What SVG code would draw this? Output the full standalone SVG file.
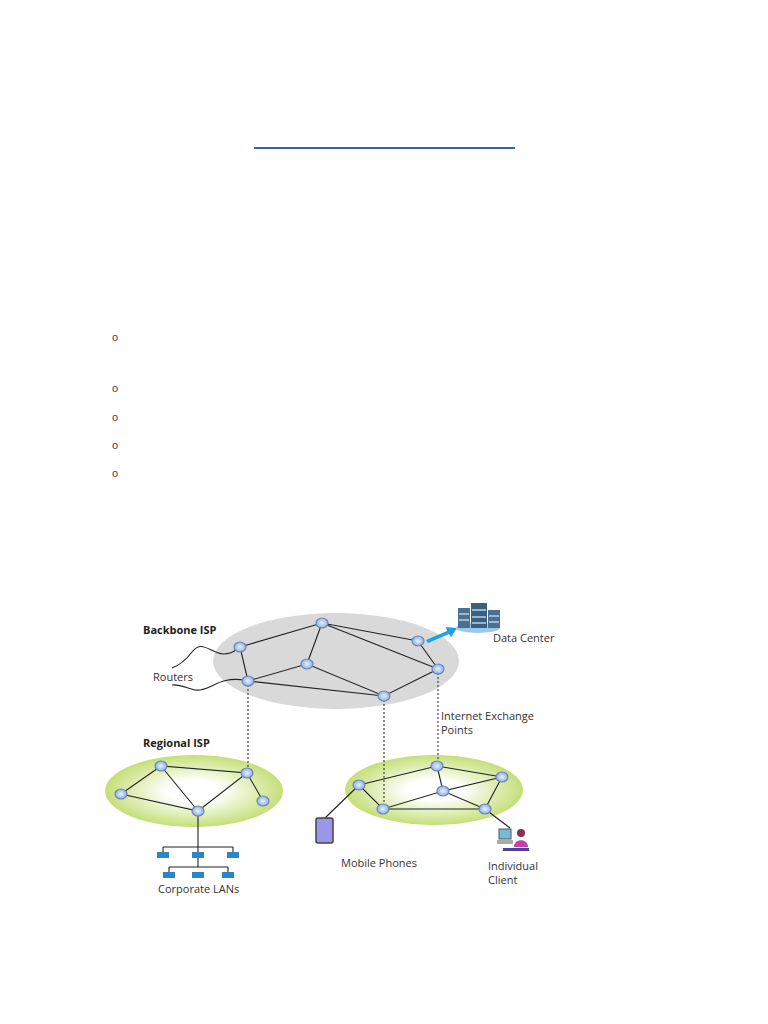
<svg xmlns="http://www.w3.org/2000/svg" width="768" height="1024" viewBox="0 0 768 1024">
<style>
.t{font-family:"Open Sans","Liberation Sans",sans-serif;font-size:11px;fill:#333}
.b{font-weight:bold;fill:#222}
.bul{font-family:"Liberation Sans",sans-serif;font-size:11px;fill:#444}
.e{stroke:#222;stroke-width:1.1;fill:none}
.d{stroke:#333;stroke-width:1.1;stroke-dasharray:2,2;fill:none}
.n{fill:url(#ng);stroke:#6a86b8;stroke-width:1.2}
</style>
<defs>
<radialGradient id="ng"><stop offset="0" stop-color="#e8f0ff"/><stop offset="1" stop-color="#8fb0e0"/></radialGradient>
<radialGradient id="gg"><stop offset="0.3" stop-color="#ffffff"/><stop offset="1" stop-color="#c5df78"/></radialGradient>
</defs>
<rect width="768" height="1024" fill="#fff"/>
<line x1="254" y1="148" x2="515" y2="148" stroke="#3a62a8" stroke-width="2"/>
<g class="bul"><text x="112" y="341">o</text><text x="112" y="392">o</text><text x="112" y="421">o</text><text x="112" y="449">o</text><text x="112" y="477">o</text></g>

<ellipse id="backbone" cx="336" cy="661" rx="123" ry="48" fill="#d9d9d9"/>
<ellipse id="regional-left" cx="194" cy="791" rx="89" ry="36" fill="url(#gg)"/>
<ellipse id="regional-right" cx="434" cy="790" rx="89" ry="35" fill="url(#gg)"/>

<g id="connectors">
<path class="e" d="M240,647L322,623L418,641M322,623L438,669M322,623L307,664M240,647L248,681L307,664L384,696L438,669L418,641M248,681L384,696"/>
<path class="e" d="M161,766L121,794L198,811L161,766L247,773L198,811M247,773L263,801"/>
<path class="e" d="M359,785L437,766L502,777L443,791L437,766M359,785L383,809L443,791L485,809L383,809M485,809L502,777"/>
<path class="d" d="M248,681V773M384,696V809M438,669V766"/>
<path class="e" d="M359,785L325,818M485,809L510,828"/>
<path class="e" d="M198,811V867M163,847H233M163,847V852M198,847V852M233,847V852M169,867H228M169,867V872M228,867V872"/>
<path class="e" stroke-width="0.8" d="M236,650C215,664 205,635 192,652C186,660 180,665 172,668M244,680C218,676 210,692 195,690C186,688 180,684 172,685"/>
<path d="M426,640L447,631L446,627L457,628L451,637L449,634L428,643Z" fill="#1ea0e6"/>
</g>

<g id="nodes">
<ellipse class="n" cx="322" cy="623" rx="6" ry="5"/><ellipse class="n" cx="240" cy="647" rx="6" ry="5"/>
<ellipse class="n" cx="418" cy="641" rx="6" ry="5"/><ellipse class="n" cx="307" cy="664" rx="6" ry="5"/>
<ellipse class="n" cx="438" cy="669" rx="6" ry="5"/><ellipse class="n" cx="248" cy="681" rx="6" ry="5"/>
<ellipse class="n" cx="384" cy="696" rx="6" ry="5"/>
<ellipse class="n" cx="161" cy="766" rx="6" ry="5"/><ellipse class="n" cx="247" cy="773" rx="6" ry="5"/>
<ellipse class="n" cx="121" cy="794" rx="6" ry="5"/><ellipse class="n" cx="263" cy="801" rx="6" ry="5"/>
<ellipse class="n" cx="198" cy="811" rx="6" ry="5"/>
<ellipse class="n" cx="359" cy="785" rx="6" ry="5"/><ellipse class="n" cx="437" cy="766" rx="6" ry="5"/>
<ellipse class="n" cx="502" cy="777" rx="6" ry="5"/><ellipse class="n" cx="443" cy="791" rx="6" ry="5"/>
<ellipse class="n" cx="383" cy="809" rx="6" ry="5"/><ellipse class="n" cx="485" cy="809" rx="6" ry="5"/>
</g>

<g id="datacenter">
<ellipse cx="478" cy="628" rx="22" ry="5" fill="#9cc8ee"/>
<rect x="458" y="608" width="12" height="20" fill="#4a6f8f"/><rect x="488" y="610" width="12" height="18" fill="#4a6f8f"/>
<rect x="471" y="603" width="16" height="25" fill="#3b5f7f"/>
<path d="M459,614H469M459,620H469M472,610H486M472,617H486M472,623H486M489,616H499M489,622H499" stroke="#b5d3ec" stroke-width="1.5"/>
</g>
<g id="phone"><rect x="316" y="818" width="17" height="25" rx="2" fill="#9b97e8" stroke="#444" stroke-width="1.5"/></g>
<g id="client">
<rect x="499" y="829" width="12" height="10" fill="#7ab8d8" stroke="#555"/>
<rect x="497" y="840" width="16" height="4" fill="#aaa"/>
<circle cx="521" cy="833" r="4" fill="#8a3050"/>
<path d="M514,847C514,838 528,838 528,847Z" fill="#c040b0"/>
<rect x="503" y="848" width="26" height="3" fill="#5040a0"/>
</g>
<g id="lan" fill="#2a86c8">
<rect x="157" y="852" width="12" height="6"/><rect x="192" y="852" width="12" height="6"/><rect x="227" y="852" width="12" height="6"/>
<rect x="163" y="872" width="12" height="6"/><rect x="192" y="872" width="12" height="6"/><rect x="222" y="872" width="12" height="6"/>
</g>

<g id="labels">
<text class="t b" x="143" y="634">Backbone ISP</text>
<text class="t" x="153" y="681">Routers</text>
<text class="t" x="493" y="642">Data Center</text>
<text class="t" x="441" y="720">Internet Exchange</text>
<text class="t" x="441" y="734">Points</text>
<text class="t b" x="143" y="747">Regional ISP</text>
<text class="t" x="158" y="893">Corporate LANs</text>
<text class="t" x="341" y="867">Mobile Phones</text>
<text class="t" x="488" y="870">Individual</text>
<text class="t" x="488" y="884">Client</text>
</g>
</svg>
